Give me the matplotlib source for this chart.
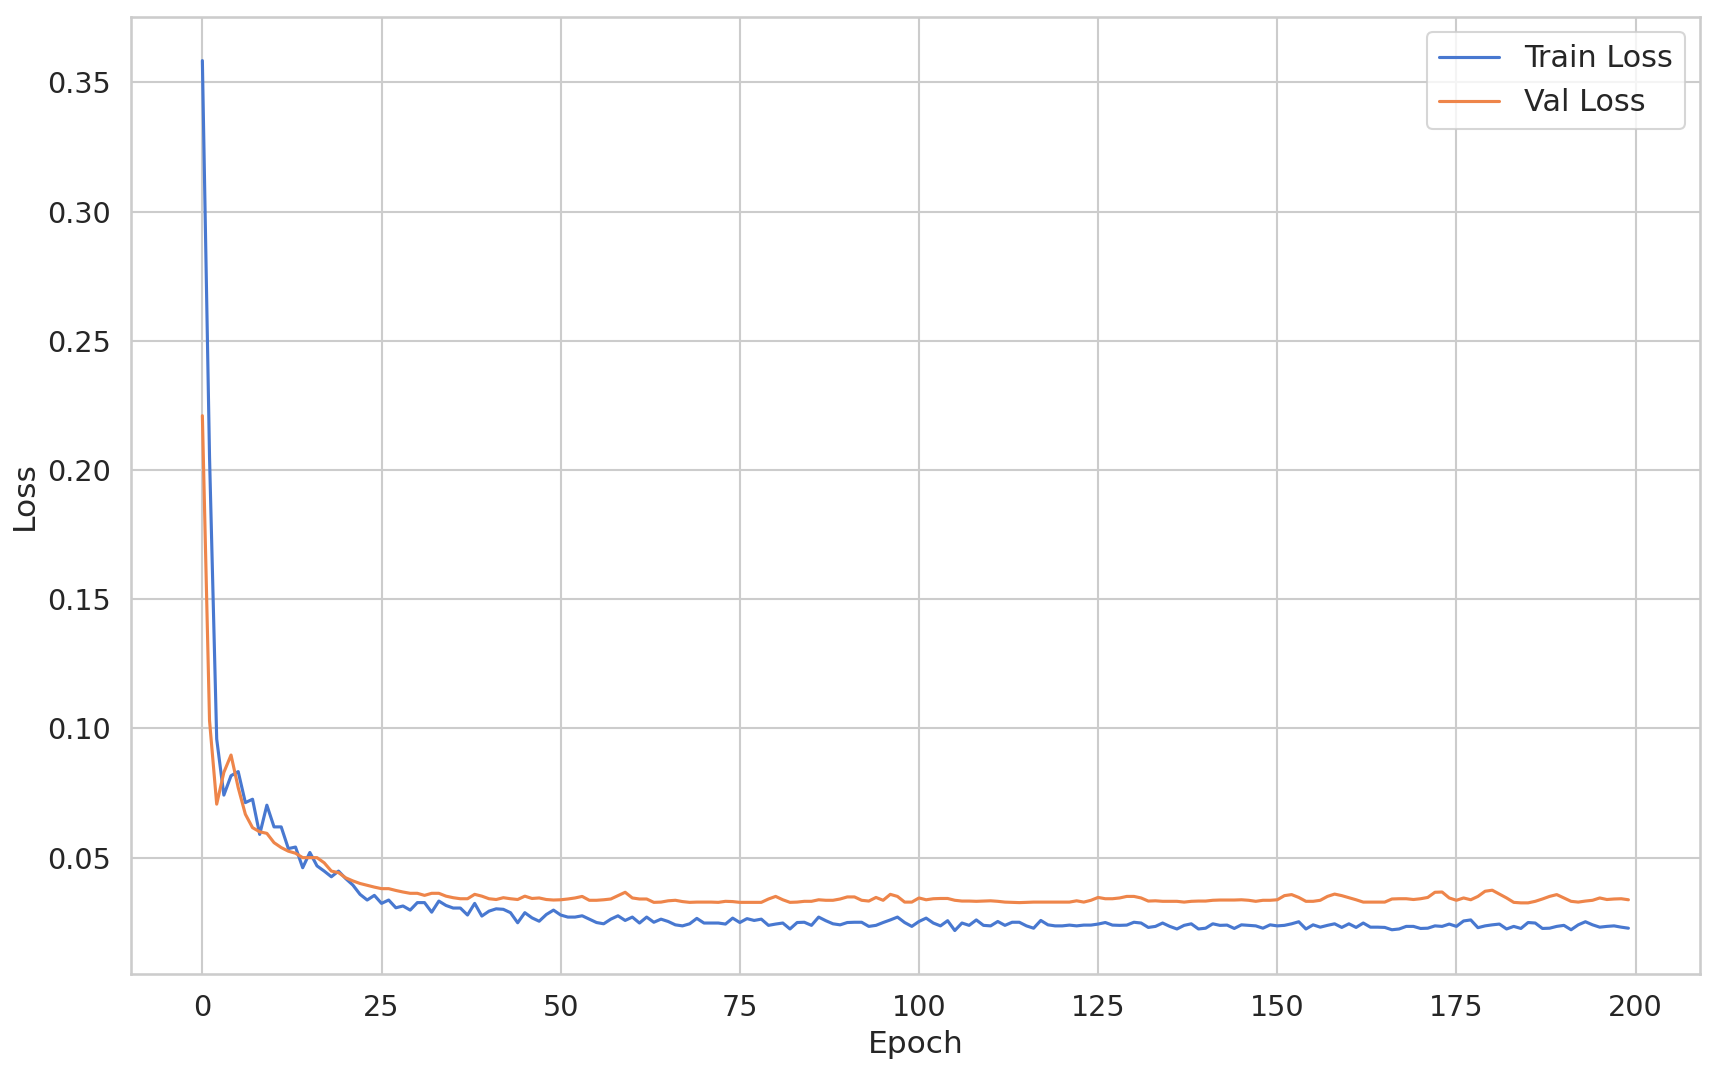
import numpy as np
import matplotlib
matplotlib.use("Agg")
import matplotlib.pyplot as plt
import seaborn as sns

# per-epoch losses
train_loss = [
    0.3584, 0.205, 0.0959, 0.0742, 0.0817, 0.0833, 0.0713, 0.0726, 0.0590, 0.0703,
    0.0619, 0.0619, 0.0535, 0.0541, 0.0461, 0.0520, 0.0468, 0.0448, 0.0426, 0.0448,
    0.0419, 0.0394, 0.0358, 0.0336, 0.0354, 0.0323, 0.0336, 0.0306, 0.0313, 0.0297,
    0.0326, 0.0326, 0.0289, 0.0332, 0.0315, 0.0305, 0.0305, 0.0278, 0.0323, 0.0274,
    0.0293, 0.0302, 0.0300, 0.0287, 0.0248, 0.0287, 0.0267, 0.0254, 0.0280, 0.0297,
    0.0278, 0.0270, 0.0270, 0.0275, 0.0262, 0.0249, 0.0244, 0.0262, 0.0275, 0.0257,
    0.0270, 0.0247, 0.0270, 0.0250, 0.0262, 0.0253, 0.0240, 0.0236, 0.0244, 0.0265,
    0.0247, 0.0247, 0.0247, 0.0243, 0.0266, 0.0249, 0.0264, 0.0257, 0.0262, 0.0238,
    0.0243, 0.0247, 0.0224, 0.0249, 0.0250, 0.0238, 0.0270, 0.0256, 0.0244, 0.0240,
    0.0249, 0.0250, 0.0250, 0.0234, 0.0238, 0.0249, 0.0259, 0.0270, 0.0249, 0.0234,
    0.0253, 0.0266, 0.0247, 0.0236, 0.0256, 0.0218, 0.0247, 0.0238, 0.0259, 0.0238,
    0.0236, 0.0253, 0.0238, 0.0250, 0.0250, 0.0236, 0.0227, 0.0257, 0.0240, 0.0236,
    0.0236, 0.0239, 0.0236, 0.0239, 0.0239, 0.0243, 0.0249, 0.0239, 0.0238, 0.0239,
    0.0250, 0.0247, 0.0230, 0.0234, 0.0247, 0.0234, 0.0224, 0.0238, 0.0244, 0.0224,
    0.0227, 0.0244, 0.0238, 0.0239, 0.0226, 0.0240, 0.0238, 0.0236, 0.0227, 0.0240,
    0.0236, 0.0238, 0.0244, 0.0252, 0.0224, 0.0240, 0.0231, 0.0238, 0.0244, 0.0230,
    0.0244, 0.0230, 0.0247, 0.0231, 0.0231, 0.0230, 0.0221, 0.0224, 0.0234, 0.0234,
    0.0226, 0.0227, 0.0236, 0.0234, 0.0243, 0.0234, 0.0255, 0.0259, 0.0229, 0.0236,
    0.0240, 0.0243, 0.0224, 0.0234, 0.0226, 0.0249, 0.0247, 0.0226, 0.0227, 0.0234,
    0.0238, 0.0221, 0.0240, 0.0252, 0.0240, 0.0231, 0.0234, 0.0236, 0.0231, 0.0227,
]

val_loss = [
    0.2210, 0.1030, 0.0707, 0.0830, 0.0897, 0.0771, 0.0668, 0.0616, 0.0600, 0.0594,
    0.0558, 0.0539, 0.0525, 0.0517, 0.0500, 0.0500, 0.0500, 0.0480, 0.0448, 0.0442,
    0.0422, 0.0410, 0.0400, 0.0393, 0.0386, 0.0380, 0.0380, 0.0373, 0.0367, 0.0362,
    0.0362, 0.0354, 0.0362, 0.0362, 0.0351, 0.0345, 0.0341, 0.0341, 0.0358, 0.0351,
    0.0341, 0.0338, 0.0345, 0.0341, 0.0338, 0.0351, 0.0342, 0.0344, 0.0338, 0.0336,
    0.0337, 0.0340, 0.0344, 0.0350, 0.0335, 0.0335, 0.0337, 0.0340, 0.0353, 0.0366,
    0.0344, 0.0340, 0.0340, 0.0327, 0.0328, 0.0333, 0.0335, 0.0330, 0.0327, 0.0328,
    0.0328, 0.0328, 0.0327, 0.0331, 0.0330, 0.0327, 0.0327, 0.0327, 0.0327, 0.0340,
    0.0350, 0.0337, 0.0327, 0.0328, 0.0331, 0.0331, 0.0337, 0.0335, 0.0335, 0.0340,
    0.0348, 0.0348, 0.0335, 0.0332, 0.0346, 0.0335, 0.0358, 0.0350, 0.0328, 0.0328,
    0.0344, 0.0337, 0.0341, 0.0342, 0.0342, 0.0335, 0.0332, 0.0332, 0.0331, 0.0332,
    0.0333, 0.0331, 0.0328, 0.0327, 0.0326, 0.0327, 0.0328, 0.0328, 0.0328, 0.0328,
    0.0328, 0.0328, 0.0333, 0.0328, 0.0335, 0.0346, 0.0341, 0.0341, 0.0344, 0.0350,
    0.0350, 0.0344, 0.0332, 0.0333, 0.0331, 0.0331, 0.0331, 0.0328, 0.0331, 0.0332,
    0.0332, 0.0335, 0.0336, 0.0336, 0.0336, 0.0337, 0.0335, 0.0331, 0.0335, 0.0335,
    0.0337, 0.0353, 0.0357, 0.0346, 0.0331, 0.0331, 0.0335, 0.0350, 0.0359, 0.0353,
    0.0345, 0.0337, 0.0328, 0.0328, 0.0328, 0.0328, 0.0340, 0.0341, 0.0341, 0.0338,
    0.0341, 0.0346, 0.0366, 0.0367, 0.0344, 0.0335, 0.0344, 0.0337, 0.0350, 0.0370,
    0.0374, 0.0359, 0.0344, 0.0327, 0.0325, 0.0325, 0.0331, 0.0340, 0.0350, 0.0357,
    0.0344, 0.0331, 0.0328, 0.0332, 0.0335, 0.0344, 0.0338, 0.0340, 0.0341, 0.0337,
]

epochs = np.arange(len(train_loss))

sns.set_theme(style="whitegrid", palette="muted", font_scale=1.25)
plt.rcParams["font.family"] = ["DejaVu Sans"]

fig = plt.figure(figsize=(1720 / 150, 1070 / 150), dpi=150)
ax = fig.add_axes([0.0762, 0.0897, 0.912, 0.8943])

ax.plot(epochs, train_loss, label="Train Loss", linewidth=1.5)
ax.plot(epochs, val_loss, label="Val Loss", linewidth=1.5)

ax.set_xlabel("Epoch")
ax.set_ylabel("Loss")
ax.legend(loc="upper right", fontsize=14.5)

fig.savefig("out.png", dpi=150)
